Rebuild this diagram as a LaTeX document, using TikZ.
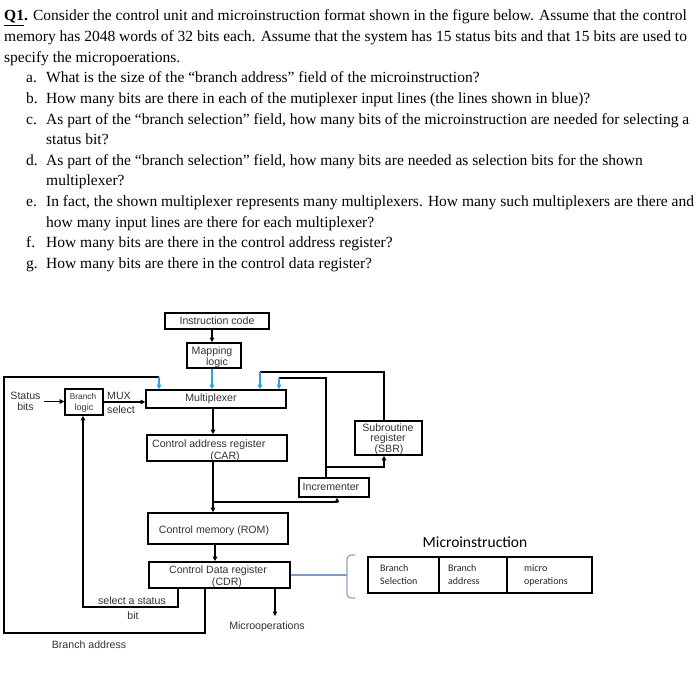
\documentclass[tikz,border=0pt]{standalone}
\usepackage{fontspec}
\setmainfont{Liberation Serif}
\setsansfont{Liberation Sans}
\newfontfamily\calibfont{Carlito}
\usetikzlibrary{arrows.meta}
\definecolor{mublue}{HTML}{2EA3DC}
\definecolor{brgray}{HTML}{8AA4CC}
\definecolor{lnblue}{HTML}{7E9CC8}
\definecolor{lblgray}{HTML}{333333}
\begin{document}
\begin{tikzpicture}[x=1pt,y=-1pt,
  box/.style={draw=black,line width=1.6pt,inner sep=0pt,fill=white},
  lbl/.style={font=\sffamily\fontsize{10.6}{12}\selectfont,text=lblgray,inner sep=0pt},
  slbl/.style={font=\sffamily\fontsize{8.3}{9}\selectfont,text=lblgray,inner sep=0pt},
  clbl/.style={font=\calibfont\fontsize{10}{13}\selectfont,text=black!85,inner sep=0pt,anchor=west,align=left},
  ln/.style={line width=1.5pt,draw=black},
  arr/.style={line width=1.5pt,draw=black,-{Triangle[length=4.5pt,width=4.5pt]}},
  barr/.style={line width=1.5pt,draw=mublue,-{Triangle[length=4.5pt,width=4.5pt]}},
  qtext/.style={font=\fontsize{15.5}{17}\selectfont,anchor=base west,inner sep=0pt},
  tcell/.style={draw=black,line width=1.6pt,inner sep=0pt,minimum height=36pt},
]
\fill[white] (0,0) rectangle (700,677);
\useasboundingbox (0,0) rectangle (700,677);

% ---------- question text ----------
\node[qtext] (q0) at (4,21) {\underline{\textbf{Q1}}\textbf{.} Consider the control unit and microinstruction format shown in the figure below. Assume that the control};
\node[qtext] (q1) at (4,41.6) {memory has 2048 words of 32 bits each. Assume that the system has 15 status bits and that 15 bits are used to};
\node[qtext] (q2) at (4,62.2) {specify the micropoerations.};
\node[qtext] (qa) at (26,82.8) {a.};
\node[qtext] (qat) at (46,82.8) {What is the size of the “branch address” field of the microinstruction?};
\node[qtext] (qb) at (26,103.4) {b.};
\node[qtext] (qbt) at (46,103.4) {How many bits are there in each of the mutiplexer input lines (the lines shown in blue)?};
\node[qtext] (qc) at (26,124) {c.};
\node[qtext] (qct) at (46,124) {As part of the “branch selection” field, how many bits of the microinstruction are needed for selecting a};
\node[qtext] (qct2) at (46,144.6) {status bit?};
\node[qtext] (qd) at (26,165.2) {d.};
\node[qtext] (qdt) at (46,165.2) {As part of the “branch selection” field, how many bits are needed as selection bits for the shown};
\node[qtext] (qdt2) at (46,185.8) {multiplexer?};
\node[qtext] (qe) at (26,206.4) {e.};
\node[qtext] (qet) at (46,206.4) {In fact, the shown multiplexer represents many multiplexers. How many such multiplexers are there and};
\node[qtext] (qet2) at (46,227) {how many input lines are there for each multiplexer?};
\node[qtext] (qf) at (26,247.6) {f.};
\node[qtext] (qft) at (46,247.6) {How many bits are there in the control address register?};
\node[qtext] (qg) at (26,268.2) {g.};
\node[qtext] (qgt) at (46,268.2) {How many bits are there in the control data register?};

% ---------- boxes ----------
\node[box,minimum width=104pt,minimum height=16pt,lbl] (instr) at (217,321) {Instruction code};
\node[box,minimum width=54pt,minimum height=25pt] (map) at (214,355.5) {};
\node[box,minimum width=140pt,minimum height=18pt] (mux) at (216,399) {};
\node[box,minimum width=38pt,minimum height=26pt] (blogic) at (84,402) {};
\node[box,minimum width=140pt,minimum height=26pt] (car) at (217,448) {};
\node[box,minimum width=140pt,minimum height=31pt] (rom) at (218,528.5) {};
\node[box,minimum width=141pt,minimum height=26pt] (cdr) at (219.5,575) {};
\node[box,minimum width=70pt,minimum height=19pt] (inc) at (334,487.5) {};
\node[box,minimum width=67pt,minimum height=34pt] (sbr) at (388.5,438) {};

% box texts
\node[lbl] (mapT1) at (212,352) {Mapping};
\node[lbl] (mapT2) at (217,363) {logic};
\node[lbl] (muxT) at (211,399) {Multiplexer};
\node[slbl] (blT1) at (83,396.5) {Branch};
\node[slbl,font=\sffamily\fontsize{9}{10}\selectfont] (blT2) at (84,408) {logic};
\node[lbl,anchor=west] (carT1) at (152,445) {Control address register};
\node[lbl] (carT2) at (225,457) {(CAR)};
\node[lbl] (romT) at (214,531) {Control memory (ROM)};
\node[lbl] (cdrT1) at (218,571) {Control Data register};
\node[lbl] (cdrT2) at (227,583) {(CDR)};
\node[lbl] (incT) at (331,487) {Incrementer};
\node[lbl] (sbrT1) at (388,428) {Subroutine};
\node[lbl] (sbrT2) at (388,439) {register};
\node[lbl] (sbrT3) at (389,450) {(SBR)};

% free labels
\node[lbl,align=center,inner xsep=3pt] (status) at (25.5,401.5) {Status\\[-1.5pt]bits};
\node[lbl,anchor=west] (muxsel1) at (107,396) {MUX};
\node[lbl,anchor=west] (muxsel2) at (107,410) {select};
\node[lbl] (selT1) at (132,601) {select a status};
\node[lbl] (selT2) at (133,616) {bit};
\node[lbl] (microT) at (267,627) {Microoperations};
\node[lbl] (baT) at (89,645) {Branch address};

% ---------- helper coordinates ----------
\coordinate (x212) at (212,0);
\coordinate (x213) at (213,0);
\coordinate (x215) at (215,0);
\coordinate (x337) at (337,0);
\coordinate (x384) at (384,0);
\coordinate (j1) at (213,502);
\coordinate (sel1) at (178,607);
\coordinate (sel2) at (83,607);
\coordinate (ba1) at (205,633);
\coordinate (ba2) at (4,633);
\coordinate (ba3) at (4,377);
\coordinate (ba4) at (159,377);
\coordinate (s1) at (384,372);
\coordinate (s2) at (260,372);
\coordinate (i1) at (326,378);
\coordinate (i2) at (279,378);
\coordinate (i3) at (326,467);
\coordinate (mo) at (275,616);

% ---------- connectors ----------
\draw[arr] (instr.south -| x212) -- (map.north -| x212);
\draw[barr] (map.south -| x212) -- (mux.north -| x212);
\draw[arr] (status.east) -- (blogic.west |- status.east);
\draw[arr] (blogic.east) -- (mux.west |- blogic.east);
\draw[arr] (mux.south -| x213) -- (car.north -| x213);
\draw[ln] (car.south -| j1) -- (j1);
\draw[arr] (j1) -- (rom.north -| j1);
\draw[arr] (j1) -| (inc.south -| x337);
\draw[arr] (rom.south -| x215) -- (cdr.north -| x215);
\draw[arr] (cdr.south -| mo) -- (mo);
\draw[arr] (cdr.south -| sel1) -- (sel1) -- (sel2) -- (blogic.south -| sel2);
\draw[ln] (cdr.south -| ba1) -- (ba1) -- (ba2) -- (ba3) -- (ba4);
\draw[barr] (ba4) -- (mux.north -| ba4);
\draw[ln] (sbr.north -| s1) -- (s1) -- (s2);
\draw[barr] (s2) -- (mux.north -| s2);
\draw[ln] (inc.north -| i1) -- (i1) -- (i2);
\draw[barr] (i2) -- (mux.north -| i2);
\draw[arr] (i3) -| (sbr.south -| x384);

% ---------- microinstruction format ----------
\coordinate (br) at (347,575);
\draw[lnblue,line width=1.1pt] (cdr.east |- br) -- (br);
\draw[brgray,line width=1.2pt,rounded corners=4pt] (355,555) -- (347,555) -- (347,598) -- (355,598);
\node[font=\calibfont\fontsize{15.5}{17}\selectfont] (mtitle) at (475,542.5) {Microinstruction};
\node[tcell,minimum width=71pt] (cell1) at (403.5,575) {};
\node[tcell,minimum width=68pt] (cell2) at (473,575) {};
\node[tcell,minimum width=85pt] (cell3) at (549.5,575) {};
\node[clbl] (c1T) at (380,575) {Branch\\Selection};
\node[clbl] (c2T) at (448,575) {Branch\\address};
\node[clbl] (c3T) at (524,575.5) {micro\\operations};
\end{tikzpicture}
\end{document}
